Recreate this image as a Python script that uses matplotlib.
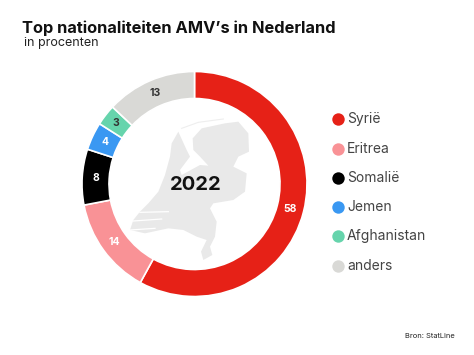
import math
import matplotlib
matplotlib.use('Agg')
import matplotlib.pyplot as plt
from matplotlib.patches import Polygon

countries = ['Syrië', 'Eritrea', 'Somalië', 'Jemen', 'Afghanistan', 'anders']
values = [58, 14, 8, 4, 3, 13]
colors = ['#e62117', '#f99296', '#000000', '#3a98f2', '#66d4ac', '#d9d9d6']
label_colors = ['white', 'white', 'white', 'white', '#333333', '#333333']

W, H = 474, 355
fig = plt.figure(figsize=(W/100, H/100), dpi=100)
plt.rcParams['font.family'] = ['Inter', 'DejaVu Sans']
bg = fig.add_axes([0, 0, 1, 1])
bg.set_xlim(0, W); bg.set_ylim(H, 0); bg.axis('off')

def px(pts):
    return [(125 + x/3, 115 + y/3) for x, y in pts]

# Decorative silhouette outline
land = [(160,50),(185,105),(195,125),(165,165),(170,180),(225,150),(250,152),(225,125),(205,105),(203,70),
        (230,40),(300,25),(340,20),(370,55),(372,110),(340,125),(325,155),(365,175),(360,230),(325,255),
        (265,265),(255,280),(275,320),(270,365),(255,395),(262,420),(235,435),(228,410),(245,375),(215,365),
        (175,345),(130,340),(60,355),(15,345),(25,315),(45,290),(70,265),(100,230),(120,180),(135,125),(140,85)]
bg.add_patch(Polygon(px(land), closed=True, fc='#e9e9e9', ec='none'))
for seg in [[(45,292),(130,290)], [(25,318),(110,312)], [(15,345),(90,340)]]:
    xy = px(seg)
    bg.plot([p[0] for p in xy], [p[1] for p in xy], color='white', lw=0.9)
xy = px([(170,40),(220,22),(295,12)])
bg.plot([p[0] for p in xy], [p[1] for p in xy], color='#eeeeee', lw=0.8)

# Donut
R = 112.5
ax = fig.add_axes([(194.5-R)/W, 1-(184+R)/H, 2*R/W, 2*R/H])
ax.pie(values, colors=colors, startangle=90, counterclock=False, radius=1,
       wedgeprops=dict(width=0.24, edgecolor='white', linewidth=1.2))
ax.set_xlim(-1, 1); ax.set_ylim(-1, 1)
ax.patch.set_alpha(0)
cum = 0
for v, c in zip(values, label_colors):
    a = math.radians(90 - (cum + v/2) * 3.6)
    ax.text(0.88*math.cos(a), 0.88*math.sin(a), str(v), color=c, fontsize=7.5, fontweight='bold',
            ha='center', va='center')
    cum += v

bg.text(22, 28, 'Top nationaliteiten AMV\u2019s in Nederland', fontsize=11.8, fontweight='bold',
        color='#111111', va='center', ha='left')
bg.text(24, 43, 'in procenten', fontsize=9, color='#222222', va='center', ha='left')
bg.text(196, 185, '2022', fontsize=14.5, fontweight='bold', color='#111111', ha='center', va='center')

ys = [119, 149, 178, 207, 236, 266]
for y, name, col in zip(ys, countries, colors):
    bg.scatter([338], [y], s=80, color=col, linewidths=0)
    bg.text(347, y, name, fontsize=10, color='#444444', va='center', ha='left')
bg.text(405, 336, 'Bron: StatLine', fontsize=5.4, color='#222222', va='center', ha='left')

fig.savefig('out.png', dpi=100, facecolor='white')
